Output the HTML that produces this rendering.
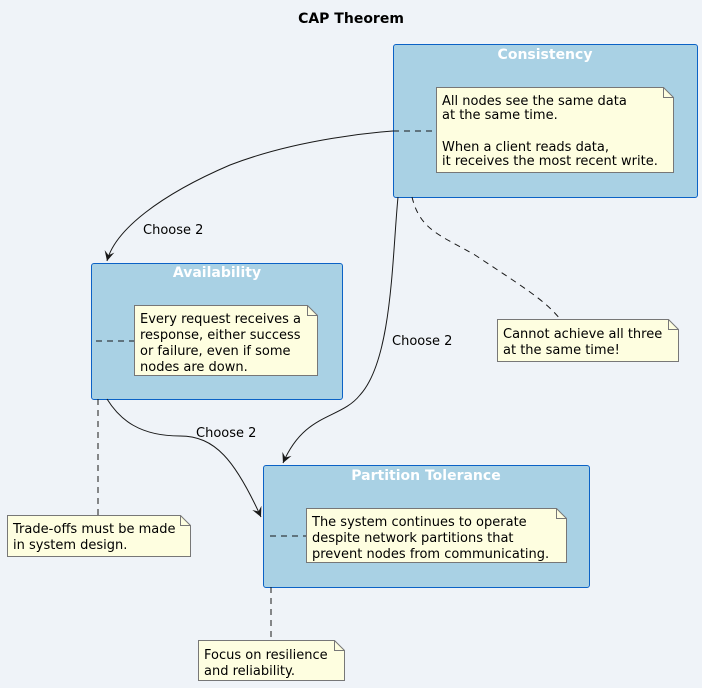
<!DOCTYPE html>
<html><head><meta charset="utf-8"><style>
html,body{margin:0;padding:0;background:#eff3f8;}
svg{display:block;font-family:"DejaVu Sans","Liberation Sans",sans-serif;}
.t{font-size:13px;fill:#000;}
.h{font-size:14px;font-weight:bold;fill:#fff;}
</style></head><body>
<svg width="702" height="688" viewBox="0 0 702 688" xmlns="http://www.w3.org/2000/svg">
<defs>
<marker id="a" markerWidth="12" markerHeight="12" refX="10" refY="5" orient="auto" markerUnits="userSpaceOnUse">
<path d="M0,0 L10,5 L0,10 L4,5 Z" fill="#181818"/>
</marker>
</defs>
<rect width="702" height="688" fill="#eff3f8"/>
<text x="351" y="23" text-anchor="middle" style="font-size:14px;font-weight:bold">CAP Theorem</text>

<rect x="393.5" y="44.5" width="304" height="153" rx="2.5" fill="#a9d1e4" stroke="#0b62c6"/>
<text class="h" x="545" y="59" text-anchor="middle">Consistency</text>
<rect x="91.5" y="263.5" width="251" height="136" rx="2.5" fill="#a9d1e4" stroke="#0b62c6"/>
<text class="h" x="217" y="277" text-anchor="middle">Availability</text>
<rect x="263.5" y="465.5" width="326" height="122" rx="2.5" fill="#a9d1e4" stroke="#0b62c6"/>
<text class="h" x="426" y="480" text-anchor="middle">Partition Tolerance</text>

<g fill="none" stroke="#181818" stroke-width="1">
<path d="M393,131 C380,132 300,138 230,165 C160,195 115,230 107,261" marker-end="url(#a)"/>
<path d="M398,197 C392,260 392,360 360,395 C340,420 305,412 283,463" marker-end="url(#a)"/>
<path d="M107,399 C120,420 140,436 180,436 C215,436 235,460 261,517" marker-end="url(#a)"/>
</g>
<g fill="none" stroke="#181818" stroke-dasharray="6,5">
<path d="M393,131 L436,131"/>
<path d="M96,341 L134,341"/>
<path d="M270,536 L306,536"/>
<path d="M412,197 C420,230 440,235 475,255 C520,285 545,300 560,319"/>
<path d="M98,399 L98,515"/>
<path d="M271,587 L271,640"/>
</g>
<text class="t" x="143" y="234">Choose 2</text>
<text class="t" x="392" y="345">Choose 2</text>
<text class="t" x="196" y="437">Choose 2</text>

<g fill="#fefee0" stroke="#777">
<path d="M436.5,87.5 H663.5 L673.5,97.5 V172.5 H436.5 Z"/>
<path d="M134.5,305.5 H307.5 L317.5,315.5 V375.5 H134.5 Z"/>
<path d="M306.5,508.5 H556.5 L566.5,518.5 V562.5 H306.5 Z"/>
<path d="M497.5,319.5 H668.5 L678.5,329.5 V361.5 H497.5 Z"/>
<path d="M7.5,515.5 H180.5 L190.5,525.5 V556.5 H7.5 Z"/>
<path d="M198.5,640.5 H334.5 L344.5,650.5 V680.5 H198.5 Z"/>
</g>
<g fill="none" stroke="#777">
<path d="M663.5,87.5 V97.5 H673.5"/>
<path d="M307.5,305.5 V315.5 H317.5"/>
<path d="M556.5,508.5 V518.5 H566.5"/>
<path d="M668.5,319.5 V329.5 H678.5"/>
<path d="M180.5,515.5 V525.5 H190.5"/>
<path d="M334.5,640.5 V650.5 H344.5"/>
</g>
<g class="t">
<text x="442" y="105">All nodes see the same data</text>
<text x="442" y="119">at the same time.</text>
<text x="442" y="151">When a client reads data,</text>
<text x="442" y="165">it receives the most recent write.</text>
<text x="140" y="323">Every request receives a</text>
<text x="140" y="339">response, either success</text>
<text x="140" y="355">or failure, even if some</text>
<text x="140" y="371">nodes are down.</text>
<text x="312" y="526">The system continues to operate</text>
<text x="312" y="542">despite network partitions that</text>
<text x="312" y="558">prevent nodes from communicating.</text>
<text x="503" y="338">Cannot achieve all three</text>
<text x="503" y="354">at the same time!</text>
<text x="13" y="533">Trade-offs must be made</text>
<text x="13" y="549">in system design.</text>
<text x="204" y="659">Focus on resilience</text>
<text x="204" y="675">and reliability.</text>
</g>
</svg>
</body></html>
